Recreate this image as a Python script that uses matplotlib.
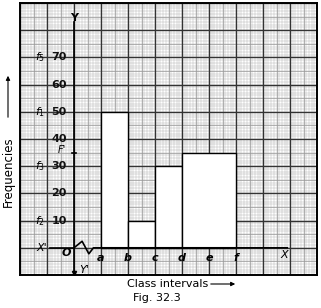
import numpy as np
import matplotlib
matplotlib.use('Agg')
import matplotlib.pyplot as plt

# class boundaries (a..f on the x axis) and the bar heights
class_labels = ['a', 'b', 'c', 'd', 'e', 'f']
class_pos = [1, 2, 3, 4, 5, 6]
bar_left = [1, 2, 3, 4]
bar_width = [1, 1, 1, 2]
bar_height = [50, 10, 30, 35]

# y ticks and the f labels beside them
y_ticks = [10, 20, 30, 40, 50, 60, 70]
f_labels = ['$f_5$', '$f_1$', '$f_3$', '$f_2$']
f_values = [70, 50, 30, 10]

fig = plt.figure(figsize=(3.21, 3.08), dpi=100)
ax = fig.add_axes([20/321, 33/308, 297/321, 272/308])
ax.set_xlim(-2, 9)
ax.set_ylim(-10, 90)

# graph paper: fine mesh + heavy lines
for x in np.arange(-2, 9.01, 0.1):
    ax.axvline(x, color='#b5b5b5', lw=0.35, zorder=0)
for y in np.arange(-10, 90.1, 1):
    ax.axhline(y, color='#b5b5b5', lw=0.35, zorder=0)
for x in np.arange(-2, 9.01, 0.5):
    ax.axvline(x, color='#999999', lw=0.5, zorder=0)
for y in np.arange(-10, 90.1, 5):
    ax.axhline(y, color='#999999', lw=0.5, zorder=0)
for x in range(-2, 10):
    ax.axvline(x, color='#333333', lw=1.0, zorder=1)
for y in range(-10, 91, 10):
    ax.axhline(y, color='#333333', lw=1.0, zorder=1)

# histogram bars
ax.bar(bar_left, bar_height, width=bar_width, align='edge', color='white',
       edgecolor='black', lw=1.0, zorder=3)

# axes lines with the broken x axis near the origin
ax.plot([0, 0], [-9, 83], color='black', lw=1.2, zorder=4)
ax.plot(0, -9.3, marker='v', color='black', ms=3, zorder=4)
ax.plot([-0.9, 0], [0, 0], color='black', lw=1.2, zorder=4)
ax.plot([0, 0.3, 0.55, 0.72, 7.9], [0, 2.4, -2.2, 0, 0], color='black', lw=1.2, zorder=4)
ax.plot([-0.08, 0.08], [35, 35], color='black', lw=1.2, zorder=4)

lab = dict(fontsize=8, fontweight='bold', color='#111111', zorder=5)
for v in y_ticks:
    ax.text(-0.55, v, str(v), ha='center', va='center', **lab)
for s, v in zip(f_labels, f_values):
    ax.text(-1.25, v, s, ha='center', va='center', fontsize=8, style='italic', zorder=5)
for s, x in zip(class_labels, class_pos):
    ax.text(x, -3.6, s, ha='center', va='center', fontsize=8, style='italic',
            fontweight='bold', zorder=5)

ax.text(-1.2, 0, "X'", ha='center', va='center', fontsize=8, style='italic', zorder=5)
ax.text(7.8, -2.8, 'X', ha='center', va='center', fontsize=8, style='italic', zorder=5)
ax.text(0, 84.5, 'Y', ha='center', va='center', fontsize=8, fontweight='bold', zorder=5)
ax.text(0.38, -8.2, "Y'", ha='center', va='center', fontsize=8, style='italic', zorder=5)
ax.text(-0.27, -1.9, 'O', ha='center', va='center', fontsize=8, style='italic',
        fontweight='bold', zorder=5)
ax.text(-0.45, 36, "F'", ha='center', va='center', fontsize=7, style='italic', zorder=5)

ax.set_xticks([])
ax.set_yticks([])
for sp in ax.spines.values():
    sp.set_linewidth(1.4)

# outside labels
fig.text(8/321, 1 - 172/308, 'Frequencies', rotation=90, ha='center', va='center', fontsize=8.5)
fig.add_artist(matplotlib.patches.FancyArrowPatch(
    (8/321, 1 - 120/308), (8/321, 1 - 73/308), transform=fig.transFigure,
    arrowstyle='-|>', mutation_scale=6, lw=0.8, color='black'))
fig.text(168/321, 1 - 284/308, 'Class intervals', ha='center', va='center', fontsize=8)
fig.add_artist(matplotlib.patches.FancyArrowPatch(
    (208/321, 1 - 284/308), (238/321, 1 - 284/308), transform=fig.transFigure,
    arrowstyle='-|>', mutation_scale=6, lw=0.8, color='black'))
fig.text(157/321, 1 - 298/308, 'Fig. 32.3', ha='center', va='center', fontsize=8)

fig.savefig('out.png', dpi=100)
